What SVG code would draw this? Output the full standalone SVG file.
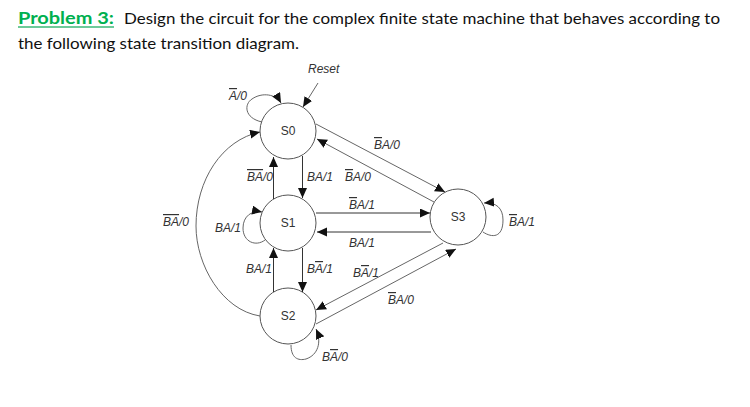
<svg xmlns="http://www.w3.org/2000/svg" width="750" height="407" viewBox="0 0 750 407">
<style>
text{font-family:"Liberation Sans",Arial,sans-serif;fill:#333}
.h{font-family:Lato,"Open Sans",sans-serif;font-size:15px;fill:#111}
.p{font-family:Lato,"Open Sans",sans-serif;font-size:17px;font-weight:700;fill:#00b050}
.l{font-size:12px;font-style:italic}
.s{font-size:12px;text-anchor:middle}
.o{text-decoration:overline}
circle{fill:#fff;stroke:#555;stroke-width:1}
.c path,.c line{fill:none;stroke:#333;stroke-width:1;marker-end:url(#a)}
.c .g{stroke:#666}
</style>
<defs><marker id="a" markerUnits="userSpaceOnUse" markerWidth="12" markerHeight="10" refX="10" refY="4.5" orient="auto"><path d="M0 0L10 4.5L0 9Z" fill="#111"/></marker></defs>
<g id="header">
<text class="p" x="18" y="24" textLength="96" lengthAdjust="spacingAndGlyphs">Problem 3:</text>
<line x1="18" y1="27" x2="114" y2="27" stroke="#3cb878" stroke-width="1.3"/>
<text class="h" x="124" y="24" textLength="596" lengthAdjust="spacingAndGlyphs">Design the circuit for the complex finite state machine that behaves according to</text>
<text class="h" x="18" y="49" textLength="281" lengthAdjust="spacingAndGlyphs">the following state transition diagram.</text>
</g>
<g id="S0"><circle cx="288" cy="131" r="28"/><text class="s" x="288" y="135">S0</text></g>
<g id="S1"><circle cx="288" cy="223" r="28"/><text class="s" x="288" y="227">S1</text></g>
<g id="S2"><circle cx="288" cy="316" r="28"/><text class="s" x="288" y="320">S2</text></g>
<g id="S3"><circle cx="458" cy="217" r="28"/><text class="s" x="458" y="221">S3</text></g>
<g class="c" id="connectors">
<line class="g" x1="318" y1="83" x2="303" y2="107"/>
<path class="g" d="M262 122C244 118 244 104 252 99C262 92 276 94 281 103"/>
<path class="g" d="M265 240C256 247 243 242 243 228C243 216 252 210 262 212"/>
<path class="g" d="M483 232C492 238 503 238 503 220C503 208 496 202 484 203"/>
<path class="g" d="M291 345C291 358 298 361 306 359C318 355 322 342 316 329"/>
<path class="g" d="M260 316C222 310 196 265 196 226C196 180 222 140 260 132"/>
<line class="g" x1="316" y1="124" x2="445" y2="192"/>
<line class="g" x1="434" y1="202" x2="317" y2="139"/>
<line x1="316" y1="213" x2="430" y2="213"/>
<line x1="431" y1="232" x2="317" y2="232"/>
<line class="g" x1="443" y1="243" x2="316" y2="310"/>
<line class="g" x1="316" y1="324" x2="456" y2="249"/>
<line x1="302.5" y1="156" x2="302.5" y2="198"/>
<line x1="273.5" y1="199" x2="273.5" y2="157"/>
<line x1="302.5" y1="248" x2="302.5" y2="292"/>
<line x1="273.5" y1="292" x2="273.5" y2="248"/>
</g>
<g id="labels">
<text class="l" x="308" y="73">Reset</text>
<text class="l" x="229" y="100"><tspan class="o">A</tspan>/0</text>
<text class="l" x="247" y="181"><tspan class="o">B</tspan><tspan class="o">A</tspan>/0</text>
<text class="l" x="307" y="181">BA/1</text>
<text class="l" x="345" y="181"><tspan class="o">B</tspan>A/0</text>
<text class="l" x="374" y="149"><tspan class="o">B</tspan>A/0</text>
<text class="l" x="349" y="209"><tspan class="o">B</tspan>A/1</text>
<text class="l" x="349" y="247">BA/1</text>
<text class="l" x="163" y="226"><tspan class="o">B</tspan><tspan class="o">A</tspan>/0</text>
<text class="l" x="215" y="232">BA/1</text>
<text class="l" x="246" y="273">BA/1</text>
<text class="l" x="307" y="273">B<tspan class="o">A</tspan>/1</text>
<text class="l" x="353" y="277">B<tspan class="o">A</tspan>/1</text>
<text class="l" x="388" y="304"><tspan class="o">B</tspan>A/0</text>
<text class="l" x="322" y="361">B<tspan class="o">A</tspan>/0</text>
<text class="l" x="509" y="226"><tspan class="o">B</tspan>A/1</text>
</g>
</svg>
